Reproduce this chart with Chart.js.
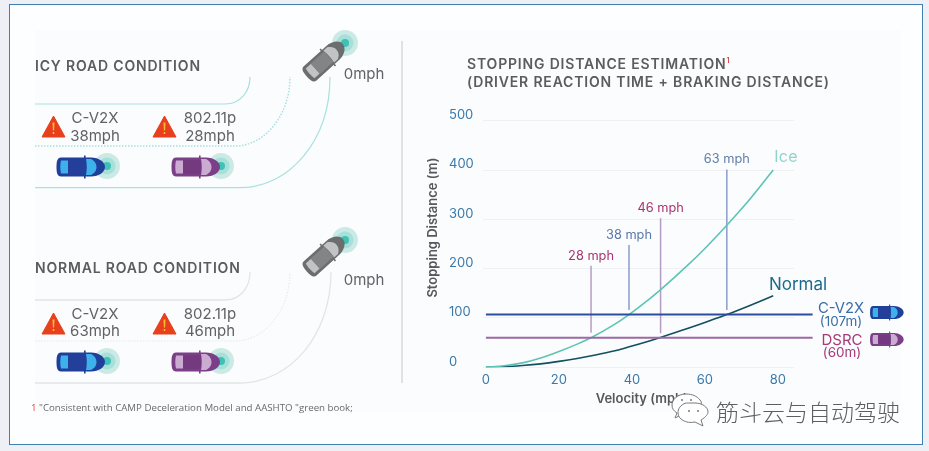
<!DOCTYPE html>
<html><head><meta charset="utf-8">
<script src="https://cdn.jsdelivr.net/npm/chart.js@4"></script>
<style>
html,body{margin:0;padding:0;width:929px;height:451px;overflow:hidden;background:#eef0f6;font-family:Inter,sans-serif}
#frame{position:absolute;left:9px;top:4px;width:912px;height:439px;border:1.5px solid #3f7fb2;background:#fdfeff}
canvas,svg{position:absolute;left:0;top:0}
.t{position:absolute;white-space:nowrap;transform:translate(-50%,-50%);line-height:1;color:#5f6367;font-size:15px}
.h{position:absolute;white-space:nowrap;line-height:1;color:#5a5d60;font-weight:600;font-size:14px;letter-spacing:.82px}
sup{color:#e0353a;font-size:7px;line-height:0;vertical-align:6px;letter-spacing:0}
</style></head>
<body>
<div id="frame"></div>
<svg width="929" height="451" viewBox="0 0 929 451" fill="none">
<defs>
<symbol id="car" overflow="visible" viewBox="-26 -12 52 24" width="52" height="24">
 <rect x="3" y="-11.5" width="1.6" height="23" fill="var(--b)"/>
 <path d="M-20-9.5H10C18-9.5 24-5 24 0S18 9.500 10 9.500H-20C-24 9.500-24.500 5-24.500 0S-24-9.500-20-9.500Z" fill="var(--b)"/>
 <path d="M-20-6.500H-13V6.500H-20C-21 3-21-3-20-6.500Z" fill="var(--w)"/>
 <path d="M5-8H10C14-6 15.500-3 15.500 0S14 6 10 8H5C6 3 6-3 5-8Z" fill="var(--w)"/>
 <rect x="-13" y="-7" width="18" height="14" fill="var(--r)"/>
</symbol>
<g id="wave"><circle r="13" fill="#cbeae6"/><circle r="8.500" fill="#a7dfd9"/><circle r="4" fill="#3fc1b5"/></g>
<g id="warn"><path d="M11.500 0L23 21H0Z" fill="#e8401c" stroke="#e8401c" stroke-linejoin="round"/><path d="M10.500 6.500h2l-.4 8h-1.200ZM10.700 16h1.600v2h-1.600Z" fill="#f7bd3a"/></g>
</defs>
<rect x="35" y="30" width="866" height="382" fill="#fbfcfe"/>
<line x1="402" y1="41" x2="402" y2="383" stroke="#d9dadc" stroke-width="1.500"/>
<g stroke="#a9e0e0" stroke-width="1.200">
 <path d="M35 104H225C240 104 250 92 250 77"/>
 <path d="M35 146H235C265 146 290 115 290 77" stroke-dasharray="1.500 1.500" stroke-width="1.500"/>
 <path d="M35 187.700H240C290 187.700 330 140 330 77"/>
</g>
<g stroke="#e2e5e6" stroke-width="1.300">
 <path d="M35 300H225C240 300 250 288 250 272"/>
 <path d="M35 341H235C265 341 290 310 290 272" stroke="#dfeaf0" stroke-dasharray="1.500 1.500" stroke-width="1"/>
 <path d="M35 383H240C290 383 331 335 331 272"/>
</g>
<g style="--b:#1f3f9a;--w:#3fb1ea;--r:#243f99">
 <use href="#wave" x="107" y="166"/><use href="#car" x="55" y="155" width="52" height="24"/>
 <use href="#wave" x="107" y="361"/><use href="#car" x="55" y="350" width="52" height="24"/>
 <use href="#car" x="869" y="304" width="36" height="17"/>
</g>
<g style="--b:#7b3f88;--w:#ccabd2;--r:#743a80">
 <use href="#wave" x="221" y="166"/><use href="#car" x="170" y="155" width="52" height="24"/>
 <use href="#wave" x="221" y="361"/><use href="#car" x="170" y="350" width="52" height="24"/>
 <use href="#car" x="869" y="331" width="36" height="17"/>
</g>
<g style="--b:#6c6d6f;--w:#c2c3c5;--r:#838486">
 <use href="#wave" x="345" y="43"/><g transform="rotate(-42 325 60)"><use href="#car" x="299" y="48" width="52" height="24"/></g>
 <use href="#wave" x="345" y="240"/><g transform="rotate(-42 325 255)"><use href="#car" x="299" y="243" width="52" height="24"/></g>
</g>
<use href="#warn" x="42" y="116"/><use href="#warn" x="153" y="116"/>
<use href="#warn" x="42" y="313"/><use href="#warn" x="153" y="313"/>
</svg>

<canvas id="c" width="929" height="451"></canvas>

<div class="h" style="left:35px;top:59px">ICY ROAD CONDITION</div>
<div class="h" style="left:35px;top:261px">NORMAL ROAD CONDITION</div>
<div class="t" style="left:95px;top:117px">C-V2X</div><div class="t" style="left:95px;top:135px">38mph</div>
<div class="t" style="left:210px;top:117px">802.11p</div><div class="t" style="left:210px;top:135px">28mph</div>
<div class="t" style="left:95px;top:313px">C-V2X</div><div class="t" style="left:95px;top:330px">63mph</div>
<div class="t" style="left:210px;top:313px">802.11p</div><div class="t" style="left:210px;top:330px">46mph</div>
<div class="t" style="left:364px;top:73px">0mph</div>
<div class="t" style="left:364px;top:279px">0mph</div>
<div class="h" style="left:467px;top:57px">STOPPING DISTANCE ESTIMATION<sup>1</sup></div>
<div class="h" style="left:467px;top:75px">(DRIVER REACTION TIME + BRAKING DISTANCE)</div>
<div class="t" style="left:786px;top:156px;color:#8fd4cc;font-size:16px;letter-spacing:.3px">Ice</div>
<div class="t" style="left:798px;top:284px;color:#1b6a8e;font-size:17px">Normal</div>
<div class="t" style="left:841px;top:308px;color:#3a6ea5;font-size:14.800px">C-V2X</div>
<div class="t" style="left:841px;top:322px;color:#3a6ea5;font-size:13.500px">(107m)</div>
<div class="t" style="left:842px;top:339px;color:#a83a78;font-size:15px">DSRC</div>
<div class="t" style="left:842px;top:353px;color:#a83a78;font-size:13.500px">(60m)</div>
<div class="t" style="left:31px;top:408px;transform:translate(0,-50%);font-size:9.700px;color:#666a6e;font-family:'Open Sans',sans-serif"><span style="color:#e0453f">1</span> "Consistent with CAMP Deceleration Model and AASHTO "green book;</div>

<svg width="929" height="451" viewBox="0 0 929 451" fill="none">
 <g stroke="#77797c" stroke-width="1" fill="#fff">
  <path d="M686 394C677 394 672 400 672 405C672 409 674 411 677 413L675 418L681 415C684 416 688 416 690 415C700 412 704 404 700 400C697 396 692 394 686 394Z"/>
  <path d="M695 403C686 403 686 403 686 403C680 405 678 409 678 413C678 419 686 424 695 422L703 426L701 420C706 417 708 414 708 412C708 407 702 403 695 403Z"/>
 </g>
 <g fill="#77797c"><circle cx="682" cy="400" r="1"/><circle cx="691" cy="400" r="1"/><circle cx="689" cy="411" r="1"/><circle cx="698" cy="411" r="1"/></g>
</svg>
<div class="t" style="left:808px;top:411px;font-family:'Noto Sans CJK SC',sans-serif;font-weight:300;font-size:23px;color:#5c5f62;text-shadow:1px 1px 0 #fff">筋斗云与自动驾驶</div>

<script>
const xTickValues = [0, 20, 40, 60, 80];
const iceSpeed = [0, 5, 10, 15, 20, 25, 28.8, 35, 39.2, 45, 47.8, 55, 60, 66, 72, 78.7];
const iceDistance = [0, 3, 9, 19, 32, 47, 60, 86, 107, 140, 157, 205, 241, 288, 338, 400];
const normalSpeed = [0, 5, 10, 15, 20, 25, 30, 35, 39, 45, 47.8, 55, 60, 66, 72, 78.7];
const normalDistance = [0, 1, 3.5, 7, 12, 18, 25, 33, 41, 54, 60.5, 78, 91, 107, 124.5, 145];
const lineSpan = [0, 89.5];
const cv2xDistance = 107;
const dsrcDistance = 60;
const markerNames = ['28 mph', '38 mph', '46 mph', '63 mph'];
const markerSpeed = [28.8, 39.2, 47.85, 66];
const markerBottom = [70, 116, 69, 116];
const markerTop = [206, 248, 302, 401];
const markerLine = ['#b69cc4', '#8a9ccb', '#b69cc4', '#8a9ccb'];
const markerText = ['#a8346f', '#5a78a8', '#a8346f', '#5f7fa5'];

const pts = (xs, ys) => xs.map((x, i) => ({x, y: ys[i]}));
const curve = (data, color) => ({data, borderColor: color, borderWidth: 1.6, pointRadius: 0, tension: 0.4, cubicInterpolationMode: 'monotone'});
const level = (v, color) => ({data: lineSpan.map(x => ({x, y: v})), borderColor: color, borderWidth: 2, pointRadius: 0, clip: false});

const markerLabels = {
  id: 'markerLabels',
  afterDatasetsDraw(chart) {
    const {ctx, scales: {x, y}} = chart;
    ctx.save();
    ctx.font = '400 12.8px Inter';
    ctx.textAlign = 'center';
    ctx.textBaseline = 'middle';
    markerNames.forEach((name, i) => {
      ctx.fillStyle = markerText[i];
      ctx.fillText(name, x.getPixelForValue(markerSpeed[i]), y.getPixelForValue(markerTop[i]) - 10);
    });
    ctx.restore();
  }
};

new Chart(document.getElementById('c'), {
  type: 'scatter',
  data: {datasets: [
    level(cv2xDistance, '#2d4ea0'),
    level(dsrcDistance, '#9b6aa5'),
    curve(pts(iceSpeed, iceDistance), '#5cc4b4'),
    curve(pts(normalSpeed, normalDistance), '#12505f'),
    ...markerSpeed.map((s, i) => ({
      data: [{x: s, y: markerBottom[i]}, {x: s, y: markerTop[i]}],
      borderColor: markerLine[i], borderWidth: 1.5, pointRadius: 0
    }))
  ]},
  options: {
    responsive: false, animation: false, showLine: true,
    layout: {padding: {left: 449, right: 135, top: 120.7, bottom: 43.7}},
    plugins: {legend: {display: false}, tooltip: {enabled: false}},
    scales: {
      x: {
        type: 'linear', min: -0.8, max: 84.4,
        afterBuildTicks: s => { s.ticks = xTickValues.map(value => ({value})); },
        afterFit: s => { s.height = 40; },
        grid: {display: false, drawTicks: false}, border: {display: false},
        ticks: {color: '#3b79a8', font: {family: 'Inter', size: 13}, padding: 5, maxRotation: 0, autoSkip: false},
        title: {display: true, text: '  Velocity (mph)', color: '#55585c', font: {family: 'Inter', size: 13, weight: '600'}, padding: 0}
      },
      y: {
        min: 0, max: 500,
        afterFit: s => { s.width = 34; },
        grid: {color: '#eef0f3', drawTicks: false}, border: {display: false},
        ticks: {stepSize: 100, color: '#3b79a8', font: {family: 'Inter', size: 13}, crossAlign: 'far', labelOffset: -5.5, padding: 0},
        title: {display: true, text: '          Stopping Distance (m)', color: '#55585c', font: {family: 'Inter', size: 13, weight: '600'}, padding: {top: -24, bottom: 0}}
      }
    }
  },
  plugins: [markerLabels]
});
</script>
</body></html>
